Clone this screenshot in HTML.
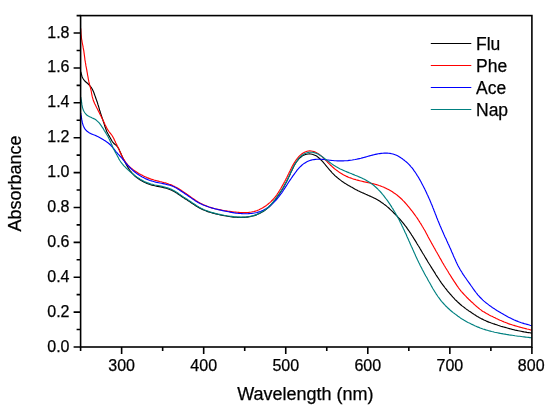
<!DOCTYPE html>
<html><head><meta charset="utf-8"><title>Absorbance vs Wavelength</title>
<style>html,body{margin:0;padding:0;background:#fff;width:550px;height:413px;overflow:hidden}svg{display:block}text{stroke:#000;stroke-width:0.25;paint-order:stroke}</style>
</head><body>
<svg width="550" height="413" viewBox="0 0 550 413" font-family="'Liberation Sans', Arial, sans-serif" fill="#000"><clipPath id="c"><rect x="80.60" y="15.60" width="451.30" height="331.40"/></clipPath>
<g clip-path="url(#c)" fill="none" stroke-width="1.15" stroke-linejoin="round" stroke-linecap="round">
<path d="M80.8,72.0 81.2,73.5 81.6,74.9 82.0,76.4 82.6,77.7 83.3,79.0 84.1,80.2 85.1,81.3 86.2,82.3 87.4,83.3 88.5,84.3 89.5,85.3 90.5,86.5 91.4,87.7 92.2,89.0 92.8,90.3 93.4,91.6 94.0,93.0 94.5,94.5 95.0,95.9 95.5,97.3 96.0,98.7 96.5,100.1 97.0,101.5 97.5,102.9 97.9,104.4 98.4,105.8 98.8,107.2 99.2,108.7 99.6,110.1 100.1,111.5 100.5,113.0 101.0,114.4 101.4,115.8 101.9,117.2 102.4,118.6 102.9,120.1 103.4,121.5 103.8,122.9 104.3,124.3 104.7,125.8 105.2,127.2 105.7,128.6 106.2,130.0 106.7,131.4 107.4,132.7 108.1,134.1 108.8,135.4 109.6,136.7 110.3,138.0 111.0,139.3 111.7,140.6 112.5,141.8 113.5,143.0 114.5,144.0 115.6,144.9 116.7,145.9 117.6,147.0 118.4,148.2 119.1,149.5 119.7,150.9 120.3,152.2 120.9,153.6 121.5,155.0 122.2,156.4 122.8,157.8 123.4,159.1 124.1,160.5 124.8,161.8 125.5,163.1 126.2,164.4 127.0,165.7 127.7,167.0 128.5,168.3 129.3,169.6 130.2,170.8 131.1,171.9 132.1,173.1 133.1,174.1 134.1,175.2 135.2,176.2 136.4,177.2 137.5,178.1 138.7,178.9 139.9,179.8 141.2,180.6 142.5,181.3 143.8,182.0 145.1,182.6 146.4,183.2 147.8,183.8 149.2,184.3 150.6,184.7 152.0,185.1 153.5,185.4 154.9,185.8 156.4,186.1 157.8,186.4 159.2,186.6 160.7,186.9 162.1,187.3 163.6,187.6 165.0,187.9 166.4,188.3 167.7,188.7 169.1,189.2 170.4,189.7 171.7,190.3 173.0,190.9 174.3,191.6 175.6,192.4 176.8,193.1 178.0,194.0 179.2,194.8 180.4,195.6 181.6,196.5 182.8,197.3 184.1,198.1 185.3,198.9 186.6,199.6 187.8,200.4 189.1,201.2 190.3,202.1 191.5,202.9 192.8,203.7 194.0,204.6 195.3,205.4 196.5,206.2 197.8,206.9 199.1,207.7 200.4,208.4 201.7,209.1 203.1,209.7 204.4,210.3 205.8,210.8 207.2,211.4 208.6,211.9 210.0,212.3 211.5,212.7 212.9,213.1 214.4,213.5 215.8,213.9 217.3,214.2 218.7,214.5 220.2,214.9 221.7,215.2 223.1,215.5 224.6,215.8 226.1,216.0 227.6,216.3 229.1,216.5 230.5,216.7 232.0,216.9 233.5,217.1 235.0,217.2 236.5,217.3 238.0,217.4 239.5,217.4 241.0,217.5 242.5,217.4 244.0,217.4 245.5,217.3 247.0,217.1 248.5,216.9 249.9,216.7 251.4,216.3 252.8,216.0 254.2,215.6 255.6,215.1 256.9,214.6 258.2,214.0 259.5,213.4 260.8,212.8 262.0,212.1 263.3,211.4 264.5,210.6 265.6,209.8 266.7,208.9 267.8,208.0 268.9,207.1 269.9,206.0 270.9,205.0 271.9,203.9 272.8,202.8 273.8,201.6 274.7,200.5 275.6,199.3 276.4,198.1 277.3,196.9 278.2,195.7 279.0,194.4 279.9,193.2 280.7,191.9 281.5,190.7 282.3,189.4 283.0,188.2 283.8,186.9 284.5,185.6 285.2,184.3 285.9,183.0 286.6,181.7 287.2,180.3 287.9,179.0 288.5,177.6 289.2,176.3 289.8,174.9 290.4,173.5 291.0,172.1 291.7,170.7 292.3,169.4 293.0,168.0 293.7,166.6 294.4,165.3 295.1,164.0 295.9,162.7 296.8,161.5 297.7,160.3 298.6,159.2 299.6,158.1 300.7,157.2 301.8,156.3 302.9,155.6 304.2,155.0 305.5,154.5 306.8,154.2 308.1,154.0 309.5,153.9 310.8,154.0 312.2,154.3 313.5,154.7 314.8,155.2 316.1,155.8 317.3,156.6 318.4,157.5 319.5,158.5 320.6,159.5 321.7,160.6 322.7,161.7 323.7,162.8 324.7,164.0 325.6,165.2 326.6,166.3 327.6,167.5 328.5,168.7 329.5,169.8 330.5,170.9 331.5,172.0 332.4,173.1 333.5,174.1 334.5,175.2 335.5,176.1 336.6,177.0 337.6,177.9 338.7,178.8 339.8,179.6 340.8,180.4 341.9,181.2 343.0,181.9 344.1,182.7 345.2,183.4 346.2,184.1 347.3,184.7 348.5,185.4 349.6,186.0 350.7,186.7 351.9,187.3 353.1,188.0 354.3,188.7 355.5,189.4 356.8,190.0 358.0,190.7 359.3,191.3 360.6,191.9 361.9,192.5 363.3,193.1 364.6,193.7 365.9,194.3 367.3,194.9 368.6,195.5 370.0,196.1 371.3,196.7 372.6,197.3 373.9,197.9 375.2,198.6 376.5,199.3 377.8,200.0 379.1,200.8 380.3,201.6 381.5,202.4 382.8,203.2 383.9,204.1 385.1,205.0 386.3,205.9 387.4,206.9 388.5,207.8 389.6,208.8 390.7,209.9 391.8,210.9 392.9,211.9 393.9,213.0 395.0,214.0 396.0,215.1 397.1,216.2 398.1,217.3 399.1,218.4 400.1,219.5 401.1,220.6 402.1,221.8 403.0,222.9 404.0,224.1 404.9,225.3 405.8,226.4 406.7,227.6 407.5,228.9 408.4,230.1 409.2,231.3 410.1,232.6 410.9,233.8 411.7,235.1 412.5,236.3 413.3,237.6 414.1,238.9 414.9,240.1 415.7,241.4 416.5,242.7 417.2,244.0 418.0,245.3 418.8,246.5 419.6,247.8 420.3,249.1 421.1,250.4 421.9,251.7 422.6,253.0 423.4,254.3 424.2,255.5 424.9,256.8 425.7,258.1 426.5,259.4 427.3,260.7 428.0,262.0 428.8,263.3 429.6,264.5 430.4,265.8 431.2,267.1 432.0,268.4 432.8,269.6 433.6,270.9 434.4,272.1 435.2,273.4 435.9,274.7 436.7,275.9 437.5,277.1 438.3,278.3 439.1,279.5 439.9,280.7 440.7,281.9 441.5,283.1 442.3,284.2 443.2,285.3 444.0,286.4 444.8,287.5 445.7,288.6 446.6,289.7 447.4,290.8 448.3,291.8 449.2,292.9 450.1,294.0 451.1,295.0 452.0,296.1 452.9,297.2 453.9,298.2 454.9,299.3 455.9,300.3 457.0,301.3 458.0,302.3 459.1,303.3 460.2,304.3 461.3,305.2 462.4,306.1 463.5,306.9 464.6,307.8 465.6,308.6 466.7,309.4 467.8,310.1 468.8,310.9 469.9,311.6 471.0,312.3 472.0,313.0 473.1,313.7 474.1,314.4 475.2,315.0 476.2,315.7 477.3,316.4 478.4,317.0 479.5,317.7 480.6,318.3 481.7,318.9 482.9,319.4 484.0,320.0 485.2,320.5 486.4,321.1 487.6,321.6 488.8,322.1 490.1,322.5 491.3,323.0 492.6,323.5 493.9,323.9 495.3,324.4 496.6,324.8 498.0,325.3 499.4,325.7 500.8,326.2 502.2,326.6 503.6,327.0 505.1,327.4 506.5,327.8 508.0,328.2 509.4,328.6 510.9,329.0 512.3,329.4 513.8,329.7 515.2,330.1 516.7,330.4 518.2,330.7 519.7,331.0 521.1,331.3 522.6,331.6 524.1,331.9 525.6,332.1 527.0,332.4 528.5,332.6 530.0,332.8 531.5,333.1" stroke="#000000"/>
<path d="M80.7,28.6 80.8,30.1 80.9,31.6 81.0,33.1 81.1,34.6 81.3,36.1 81.4,37.6 81.6,39.1 81.9,40.5 82.1,42.0 82.4,43.5 82.7,45.0 83.0,46.4 83.2,47.9 83.5,49.4 83.8,50.9 84.0,52.3 84.2,53.8 84.4,55.3 84.6,56.8 84.8,58.3 84.9,59.8 85.2,61.2 85.4,62.7 85.7,64.2 85.9,65.7 86.2,67.1 86.5,68.6 86.8,70.1 87.0,71.6 87.3,73.0 87.5,74.5 87.8,76.0 88.1,77.5 88.3,79.0 88.6,80.4 88.9,81.9 89.3,83.3 89.6,84.8 90.0,86.2 90.4,87.7 90.8,89.1 91.1,90.5 91.4,92.0 91.6,93.5 91.9,94.9 92.2,96.4 92.6,97.8 93.0,99.2 93.5,100.7 94.0,102.1 94.6,103.4 95.3,104.8 95.9,106.1 96.6,107.5 97.3,108.8 98.0,110.2 98.6,111.5 99.3,112.8 100.0,114.2 100.7,115.5 101.3,116.8 102.0,118.2 102.7,119.5 103.3,120.9 104.0,122.2 104.6,123.6 105.2,124.9 105.9,126.3 106.5,127.6 107.3,129.0 108.0,130.2 108.9,131.5 109.8,132.6 110.8,133.8 111.7,135.0 112.5,136.2 113.2,137.5 113.9,138.8 114.5,140.2 115.2,141.5 115.8,142.9 116.5,144.2 117.1,145.6 117.8,146.9 118.4,148.3 119.1,149.6 119.7,151.0 120.3,152.4 120.9,153.7 121.5,155.1 122.2,156.4 122.9,157.8 123.6,159.1 124.4,160.3 125.2,161.6 126.1,162.8 127.0,164.0 128.0,165.1 129.0,166.1 130.1,167.2 131.2,168.1 132.3,169.0 133.4,169.9 134.6,170.8 135.8,171.6 136.9,172.3 138.1,173.1 139.3,173.8 140.6,174.5 141.8,175.1 143.1,175.8 144.4,176.4 145.7,177.0 147.0,177.6 148.4,178.1 149.7,178.6 151.1,179.1 152.6,179.5 154.0,180.0 155.4,180.4 156.8,180.7 158.3,181.1 159.7,181.5 161.1,181.8 162.5,182.2 163.9,182.6 165.3,182.9 166.6,183.3 167.9,183.7 169.2,184.2 170.4,184.6 171.7,185.1 172.9,185.7 174.2,186.2 175.4,186.9 176.6,187.5 177.9,188.2 179.1,189.0 180.3,189.8 181.5,190.6 182.7,191.4 183.9,192.2 185.1,193.0 186.3,193.8 187.4,194.6 188.6,195.4 189.8,196.2 191.0,197.1 192.1,197.9 193.3,198.8 194.5,199.6 195.7,200.4 197.0,201.2 198.2,202.0 199.5,202.7 200.8,203.4 202.2,204.1 203.5,204.7 204.9,205.3 206.2,205.9 207.6,206.5 209.0,207.0 210.5,207.4 211.9,207.9 213.3,208.3 214.8,208.7 216.2,209.0 217.7,209.3 219.2,209.6 220.7,209.9 222.2,210.2 223.7,210.5 225.1,210.7 226.6,210.9 228.1,211.2 229.6,211.4 231.1,211.6 232.6,211.8 234.1,212.0 235.6,212.1 237.1,212.3 238.6,212.4 240.1,212.5 241.6,212.6 243.0,212.6 244.5,212.6 245.9,212.6 247.3,212.5 248.7,212.4 250.1,212.2 251.4,212.0 252.7,211.7 254.0,211.5 255.3,211.1 256.6,210.7 257.8,210.2 259.1,209.7 260.3,209.1 261.6,208.5 262.8,207.8 264.0,207.0 265.2,206.2 266.4,205.4 267.6,204.5 268.7,203.5 269.8,202.6 270.9,201.6 272.0,200.5 273.0,199.5 274.0,198.4 274.9,197.3 275.8,196.2 276.7,195.0 277.4,193.9 278.2,192.7 278.9,191.6 279.6,190.5 280.3,189.3 281.0,188.2 281.6,187.0 282.3,185.9 282.9,184.7 283.6,183.6 284.2,182.4 284.9,181.2 285.5,180.0 286.1,178.7 286.8,177.5 287.4,176.2 288.0,174.9 288.7,173.6 289.3,172.2 290.0,170.9 290.6,169.5 291.3,168.2 292.0,166.8 292.7,165.5 293.5,164.1 294.3,162.8 295.1,161.5 295.9,160.3 296.8,159.0 297.8,157.8 298.8,156.7 299.8,155.6 300.9,154.6 302.0,153.7 303.2,152.9 304.5,152.2 305.8,151.7 307.1,151.3 308.4,151.0 309.8,150.9 311.2,151.0 312.5,151.2 313.9,151.6 315.2,152.1 316.5,152.7 317.8,153.4 319.0,154.3 320.2,155.2 321.4,156.1 322.5,157.1 323.6,158.2 324.7,159.3 325.8,160.3 326.9,161.4 327.9,162.5 329.0,163.6 330.1,164.7 331.2,165.7 332.3,166.8 333.4,167.7 334.5,168.7 335.7,169.6 336.9,170.5 338.1,171.4 339.3,172.3 340.5,173.1 341.7,173.8 342.9,174.6 344.2,175.2 345.4,175.8 346.6,176.4 347.8,176.9 349.1,177.5 350.3,177.9 351.5,178.3 352.6,178.7 353.8,179.1 355.0,179.4 356.1,179.8 357.3,180.1 358.4,180.4 359.6,180.7 360.8,181.0 362.0,181.3 363.3,181.6 364.5,181.9 365.8,182.1 367.1,182.4 368.4,182.7 369.7,182.9 371.0,183.2 372.4,183.5 373.7,183.9 375.1,184.2 376.4,184.6 377.7,185.0 379.1,185.5 380.5,185.9 381.8,186.5 383.2,187.0 384.5,187.6 385.9,188.2 387.2,188.9 388.5,189.6 389.8,190.3 391.1,191.0 392.4,191.8 393.6,192.7 394.9,193.5 396.1,194.4 397.3,195.3 398.4,196.3 399.6,197.2 400.7,198.2 401.8,199.2 402.8,200.3 403.9,201.4 404.9,202.5 405.9,203.6 406.8,204.7 407.8,205.9 408.8,207.0 409.7,208.2 410.6,209.4 411.6,210.5 412.5,211.7 413.4,212.9 414.3,214.1 415.2,215.3 416.0,216.5 416.9,217.7 417.7,218.9 418.5,220.2 419.3,221.4 420.1,222.7 420.9,223.9 421.7,225.2 422.4,226.5 423.2,227.7 423.9,229.0 424.7,230.3 425.4,231.6 426.1,232.9 426.8,234.2 427.5,235.5 428.2,236.9 428.9,238.2 429.6,239.5 430.3,240.8 431.0,242.1 431.7,243.4 432.5,244.7 433.2,246.0 433.9,247.3 434.7,248.6 435.4,249.9 436.1,251.2 436.9,252.5 437.6,253.8 438.3,255.0 439.0,256.3 439.7,257.6 440.5,258.9 441.2,260.1 441.9,261.4 442.6,262.7 443.4,263.9 444.1,265.2 444.9,266.5 445.6,267.7 446.4,269.0 447.2,270.3 448.0,271.5 448.7,272.8 449.5,274.1 450.3,275.3 451.1,276.6 451.9,277.9 452.7,279.1 453.5,280.4 454.3,281.6 455.2,282.9 456.0,284.1 456.8,285.4 457.7,286.6 458.5,287.8 459.4,289.0 460.3,290.2 461.2,291.3 462.2,292.4 463.2,293.5 464.2,294.6 465.2,295.7 466.2,296.7 467.2,297.8 468.3,298.8 469.3,299.8 470.4,300.8 471.4,301.8 472.5,302.7 473.5,303.7 474.5,304.6 475.6,305.6 476.6,306.5 477.7,307.4 478.7,308.2 479.8,309.1 480.9,309.9 481.9,310.7 483.0,311.4 484.2,312.1 485.3,312.8 486.4,313.5 487.6,314.1 488.8,314.8 490.0,315.4 491.2,316.0 492.5,316.6 493.7,317.2 495.0,317.8 496.2,318.5 497.5,319.1 498.8,319.7 500.1,320.3 501.5,320.8 502.8,321.4 504.2,322.0 505.6,322.5 506.9,323.0 508.3,323.6 509.7,324.1 511.2,324.5 512.6,325.0 514.0,325.4 515.5,325.9 516.9,326.3 518.4,326.7 519.8,327.1 521.3,327.5 522.7,327.9 524.2,328.2 525.6,328.6 527.1,329.0 528.6,329.3 530.0,329.7 531.5,330.1" stroke="#ff0000"/>
<path d="M80.8,113.4 81.0,114.9 81.3,116.4 81.5,117.9 81.7,119.4 82.0,120.9 82.3,122.4 82.7,123.8 83.1,125.2 83.7,126.6 84.3,127.9 85.1,129.1 86.0,130.2 87.1,131.2 88.2,132.1 89.5,132.9 90.8,133.6 92.2,134.2 93.6,134.8 95.0,135.3 96.4,135.9 97.7,136.5 99.1,137.2 100.4,137.9 101.7,138.7 103.0,139.5 104.2,140.3 105.5,141.1 106.7,141.9 107.9,142.8 109.1,143.7 110.2,144.7 111.2,145.8 112.2,146.9 113.1,148.0 114.1,149.2 115.0,150.4 115.9,151.6 116.9,152.7 117.9,153.8 118.9,154.9 119.9,156.0 120.9,157.1 121.9,158.2 122.8,159.4 123.8,160.5 124.7,161.7 125.6,162.9 126.6,164.0 127.6,165.1 128.6,166.2 129.6,167.3 130.7,168.3 131.7,169.4 132.8,170.3 133.9,171.3 135.1,172.2 136.2,173.1 137.4,173.9 138.6,174.7 139.8,175.5 141.0,176.2 142.2,176.9 143.5,177.6 144.7,178.3 146.0,178.9 147.3,179.4 148.7,180.0 150.1,180.5 151.4,180.9 152.8,181.3 154.3,181.7 155.7,182.1 157.1,182.4 158.6,182.7 160.1,183.0 161.5,183.3 162.9,183.6 164.4,183.9 165.8,184.2 167.2,184.6 168.6,184.9 169.9,185.3 171.3,185.8 172.6,186.3 173.9,186.8 175.2,187.5 176.4,188.1 177.7,188.9 178.9,189.6 180.1,190.4 181.3,191.2 182.5,192.0 183.7,192.8 184.9,193.7 186.2,194.5 187.4,195.3 188.6,196.2 189.8,197.0 191.1,197.9 192.3,198.7 193.5,199.5 194.8,200.4 196.1,201.2 197.3,201.9 198.6,202.7 200.0,203.4 201.3,204.0 202.6,204.7 204.0,205.3 205.4,205.8 206.8,206.3 208.2,206.8 209.6,207.3 211.0,207.7 212.5,208.1 213.9,208.5 215.4,208.9 216.8,209.2 218.3,209.6 219.7,209.9 221.2,210.2 222.7,210.6 224.1,210.9 225.6,211.2 227.1,211.5 228.6,211.8 230.0,212.1 231.5,212.4 233.0,212.6 234.5,212.9 236.0,213.1 237.4,213.2 238.9,213.4 240.4,213.5 241.8,213.6 243.3,213.7 244.7,213.7 246.1,213.7 247.6,213.7 248.9,213.6 250.3,213.5 251.7,213.4 253.0,213.2 254.3,213.0 255.6,212.8 256.9,212.5 258.2,212.1 259.5,211.7 260.8,211.3 262.0,210.8 263.3,210.3 264.5,209.6 265.7,209.0 266.8,208.3 268.0,207.5 269.1,206.7 270.2,205.8 271.2,204.9 272.3,203.9 273.3,202.9 274.3,201.9 275.3,200.9 276.3,199.8 277.3,198.7 278.2,197.5 279.1,196.4 280.0,195.2 280.9,194.0 281.8,192.8 282.6,191.6 283.4,190.3 284.2,189.1 285.0,187.9 285.8,186.6 286.6,185.4 287.4,184.2 288.1,183.0 288.9,181.8 289.7,180.6 290.5,179.4 291.3,178.3 292.1,177.1 292.9,175.9 293.7,174.8 294.6,173.6 295.4,172.5 296.3,171.3 297.1,170.2 298.0,169.2 298.9,168.1 299.8,167.1 300.8,166.2 301.8,165.3 302.8,164.4 303.9,163.6 305.0,162.9 306.1,162.2 307.3,161.6 308.6,161.0 309.9,160.5 311.2,160.1 312.6,159.8 313.9,159.6 315.4,159.4 316.8,159.3 318.2,159.2 319.7,159.2 321.1,159.3 322.6,159.4 324.1,159.5 325.5,159.7 327.0,159.9 328.5,160.0 329.9,160.2 331.4,160.4 332.9,160.5 334.4,160.7 335.9,160.8 337.3,160.9 338.8,160.9 340.3,160.9 341.8,160.9 343.3,160.9 344.8,160.8 346.3,160.7 347.7,160.6 349.2,160.4 350.7,160.2 352.2,160.0 353.6,159.7 355.1,159.5 356.6,159.2 358.0,158.9 359.5,158.6 360.9,158.3 362.3,157.9 363.8,157.5 365.2,157.1 366.6,156.7 368.1,156.3 369.5,155.9 370.9,155.5 372.4,155.1 373.9,154.7 375.3,154.4 376.8,154.1 378.3,153.8 379.7,153.6 381.2,153.4 382.7,153.2 384.2,153.1 385.7,153.1 387.2,153.1 388.7,153.2 390.1,153.4 391.6,153.7 393.0,154.0 394.4,154.5 395.8,155.0 397.1,155.6 398.4,156.3 399.6,157.0 400.8,157.8 402.0,158.5 403.1,159.4 404.3,160.2 405.3,161.1 406.4,162.0 407.4,162.9 408.4,163.9 409.4,164.9 410.4,166.0 411.3,167.1 412.3,168.2 413.2,169.4 414.0,170.6 414.9,171.8 415.7,173.0 416.5,174.3 417.3,175.6 418.1,176.8 418.9,178.1 419.6,179.4 420.4,180.8 421.1,182.1 421.8,183.4 422.5,184.7 423.2,186.1 423.9,187.4 424.6,188.8 425.2,190.1 425.9,191.5 426.5,192.8 427.1,194.2 427.8,195.5 428.4,196.9 429.0,198.3 429.6,199.6 430.2,201.0 430.8,202.4 431.3,203.8 431.9,205.1 432.5,206.5 433.0,207.9 433.6,209.3 434.1,210.7 434.7,212.1 435.2,213.5 435.8,214.9 436.3,216.3 436.8,217.7 437.4,219.1 437.9,220.4 438.5,221.8 439.1,223.2 439.6,224.6 440.2,226.0 440.8,227.3 441.4,228.7 442.0,230.1 442.6,231.4 443.2,232.8 443.8,234.2 444.4,235.5 445.0,236.9 445.7,238.3 446.3,239.6 446.9,241.0 447.5,242.3 448.1,243.7 448.8,245.1 449.4,246.4 450.0,247.8 450.6,249.1 451.2,250.5 451.8,251.9 452.4,253.2 453.0,254.6 453.5,256.0 454.1,257.3 454.8,258.7 455.4,260.0 456.0,261.4 456.6,262.7 457.2,264.0 457.9,265.4 458.6,266.7 459.3,268.0 460.0,269.3 460.8,270.6 461.6,271.8 462.3,273.1 463.1,274.4 464.0,275.6 464.8,276.8 465.7,278.0 466.5,279.3 467.4,280.5 468.2,281.7 469.1,282.9 470.0,284.1 470.8,285.3 471.7,286.5 472.5,287.7 473.3,288.9 474.2,290.1 475.1,291.3 476.0,292.5 476.9,293.6 477.8,294.8 478.8,295.9 479.8,297.0 480.8,298.0 481.9,299.1 482.9,300.1 484.0,301.1 485.2,302.1 486.3,303.0 487.5,303.9 488.7,304.9 489.9,305.8 491.1,306.6 492.3,307.5 493.5,308.3 494.8,309.1 496.1,310.0 497.3,310.8 498.6,311.5 499.9,312.3 501.2,313.1 502.5,313.8 503.8,314.6 505.1,315.3 506.4,316.0 507.7,316.8 509.0,317.4 510.4,318.1 511.7,318.8 513.1,319.4 514.4,320.0 515.8,320.6 517.2,321.1 518.6,321.7 520.0,322.2 521.4,322.7 522.8,323.1 524.2,323.6 525.7,324.0 527.1,324.4 528.5,324.8 530.0,325.3 531.4,325.6" stroke="#0000ff"/>
<path d="M80.8,97.3 81.0,98.8 81.3,100.2 81.5,101.7 81.7,103.2 81.9,104.7 82.2,106.2 82.5,107.6 83.0,109.1 83.5,110.5 84.2,111.8 85.0,113.0 86.0,114.2 87.1,115.2 88.3,116.0 89.6,116.7 90.9,117.3 92.3,118.0 93.7,118.6 95.0,119.3 96.2,120.1 97.3,121.1 98.4,122.1 99.4,123.2 100.3,124.4 101.2,125.6 102.0,126.9 102.9,128.1 103.7,129.4 104.4,130.7 105.2,131.9 106.0,133.2 106.7,134.5 107.5,135.8 108.2,137.1 108.9,138.5 109.6,139.8 110.2,141.2 110.8,142.6 111.4,143.9 112.0,145.3 112.6,146.7 113.1,148.0 113.7,149.2 114.3,150.3 114.8,151.3 115.3,152.1 115.8,152.9 116.2,153.7 116.7,154.6 117.2,155.6 117.8,156.7 118.4,157.8 119.0,159.1 119.7,160.3 120.5,161.5 121.3,162.7 122.3,163.9 123.2,165.0 124.2,166.1 125.3,167.2 126.4,168.3 127.5,169.3 128.6,170.4 129.7,171.4 130.8,172.4 132.0,173.3 133.1,174.3 134.3,175.2 135.5,176.1 136.7,177.0 137.9,177.8 139.2,178.6 140.4,179.4 141.7,180.1 143.0,180.8 144.3,181.5 145.7,182.1 147.0,182.6 148.4,183.1 149.7,183.6 151.1,184.0 152.5,184.3 153.8,184.7 155.2,185.0 156.6,185.2 158.0,185.5 159.3,185.8 160.7,186.1 162.1,186.4 163.4,186.7 164.8,187.1 166.2,187.5 167.5,187.9 168.9,188.3 170.2,188.9 171.5,189.4 172.8,190.1 174.1,190.7 175.4,191.5 176.6,192.2 177.8,193.0 179.0,193.9 180.2,194.7 181.4,195.6 182.6,196.4 183.8,197.2 185.1,198.0 186.3,198.8 187.6,199.6 188.8,200.5 190.1,201.3 191.3,202.1 192.5,203.0 193.8,203.8 195.0,204.6 196.3,205.5 197.5,206.2 198.8,207.0 200.1,207.7 201.4,208.4 202.8,209.1 204.1,209.7 205.5,210.3 206.9,210.8 208.3,211.3 209.7,211.8 211.1,212.2 212.5,212.6 214.0,213.0 215.4,213.4 216.9,213.7 218.3,214.1 219.8,214.4 221.2,214.7 222.7,215.0 224.2,215.3 225.6,215.5 227.1,215.8 228.6,216.0 230.1,216.2 231.6,216.4 233.1,216.6 234.6,216.8 236.1,216.9 237.6,217.0 239.1,217.1 240.6,217.1 242.1,217.1 243.6,217.1 245.0,217.0 246.5,216.9 248.0,216.7 249.4,216.5 250.8,216.2 252.3,215.9 253.6,215.5 255.0,215.1 256.3,214.6 257.6,214.1 258.9,213.5 260.2,212.8 261.4,212.1 262.6,211.4 263.8,210.7 265.0,209.9 266.1,209.0 267.2,208.1 268.3,207.2 269.3,206.2 270.3,205.2 271.3,204.1 272.3,203.0 273.2,201.9 274.1,200.7 275.1,199.5 276.0,198.3 276.8,197.1 277.7,195.9 278.6,194.7 279.4,193.5 280.2,192.2 281.0,191.0 281.8,189.7 282.6,188.5 283.4,187.2 284.1,185.9 284.8,184.6 285.5,183.3 286.2,182.0 286.9,180.7 287.6,179.3 288.2,178.0 288.9,176.6 289.5,175.3 290.1,173.9 290.7,172.5 291.4,171.1 292.0,169.8 292.7,168.4 293.3,167.0 294.0,165.7 294.8,164.4 295.5,163.1 296.3,161.8 297.2,160.6 298.1,159.4 299.0,158.2 300.0,157.2 301.0,156.2 302.1,155.3 303.3,154.5 304.5,153.8 305.8,153.2 307.1,152.7 308.4,152.4 309.8,152.2 311.1,152.2 312.5,152.3 313.9,152.6 315.3,153.0 316.6,153.5 317.9,154.1 319.2,154.8 320.5,155.6 321.8,156.4 323.0,157.3 324.2,158.2 325.4,159.1 326.6,160.0 327.8,160.9 329.0,161.8 330.2,162.7 331.4,163.6 332.6,164.5 333.8,165.3 335.1,166.1 336.3,166.8 337.6,167.5 338.9,168.2 340.2,168.9 341.5,169.5 342.8,170.1 344.2,170.7 345.5,171.3 346.9,171.9 348.2,172.4 349.6,173.0 351.0,173.5 352.3,174.1 353.7,174.6 355.1,175.2 356.4,175.7 357.8,176.3 359.1,176.9 360.5,177.5 361.8,178.1 363.1,178.7 364.4,179.3 365.7,180.0 366.9,180.7 368.2,181.5 369.4,182.3 370.6,183.1 371.8,183.9 373.0,184.8 374.2,185.8 375.3,186.7 376.4,187.7 377.5,188.7 378.5,189.8 379.6,190.9 380.6,192.0 381.6,193.1 382.5,194.3 383.5,195.4 384.4,196.6 385.3,197.8 386.2,199.0 387.1,200.2 388.0,201.4 388.8,202.7 389.7,203.9 390.5,205.1 391.3,206.4 392.1,207.7 392.9,208.9 393.7,210.2 394.4,211.5 395.2,212.8 395.9,214.1 396.6,215.4 397.4,216.7 398.1,218.0 398.8,219.3 399.5,220.6 400.1,222.0 400.8,223.3 401.5,224.6 402.1,226.0 402.8,227.3 403.4,228.7 404.1,230.0 404.7,231.4 405.3,232.8 406.0,234.1 406.6,235.5 407.2,236.9 407.8,238.2 408.4,239.6 409.0,241.0 409.6,242.3 410.2,243.7 410.8,245.1 411.4,246.4 412.1,247.8 412.7,249.2 413.3,250.5 413.9,251.9 414.5,253.3 415.1,254.6 415.7,256.0 416.4,257.4 417.0,258.7 417.6,260.1 418.3,261.4 418.9,262.8 419.6,264.1 420.2,265.5 420.9,266.8 421.6,268.1 422.3,269.5 423.0,270.8 423.7,272.1 424.4,273.4 425.1,274.7 425.8,276.0 426.6,277.3 427.3,278.6 428.0,279.9 428.7,281.2 429.5,282.5 430.2,283.8 430.9,285.1 431.6,286.4 432.4,287.7 433.1,289.0 433.9,290.3 434.7,291.6 435.5,292.8 436.3,294.1 437.1,295.3 437.9,296.5 438.8,297.7 439.7,298.9 440.6,300.1 441.5,301.3 442.5,302.4 443.5,303.5 444.5,304.6 445.5,305.7 446.6,306.7 447.6,307.8 448.7,308.8 449.8,309.8 450.9,310.7 452.1,311.7 453.2,312.6 454.4,313.5 455.6,314.4 456.8,315.3 458.0,316.2 459.2,317.0 460.4,317.9 461.6,318.7 462.9,319.4 464.2,320.2 465.4,320.9 466.7,321.7 468.0,322.4 469.4,323.1 470.7,323.7 472.0,324.4 473.4,325.0 474.7,325.7 476.1,326.3 477.4,326.9 478.8,327.4 480.2,328.0 481.6,328.5 483.0,329.0 484.4,329.4 485.8,329.9 487.3,330.3 488.7,330.7 490.2,331.1 491.6,331.5 493.1,331.8 494.5,332.2 496.0,332.5 497.4,332.8 498.9,333.1 500.4,333.4 501.8,333.6 503.3,333.9 504.8,334.1 506.3,334.4 507.7,334.6 509.2,334.9 510.7,335.1 512.2,335.3 513.7,335.5 515.1,335.8 516.6,336.0 518.1,336.2 519.6,336.3 521.1,336.5 522.6,336.7 524.1,336.9 525.5,337.1 527.0,337.3 528.5,337.4 530.0,337.6 531.5,337.8" stroke="#008080"/>
</g>
<path d="M80.60,347.00V351.00 M121.63,347.00V354.00 M162.65,347.00V351.00 M203.68,347.00V354.00 M244.71,347.00V351.00 M285.74,347.00V354.00 M326.76,347.00V351.00 M367.79,347.00V354.00 M408.82,347.00V351.00 M449.85,347.00V354.00 M490.87,347.00V351.00 M531.90,347.00V354.00 M80.60,347.00H73.60 M80.60,329.56H76.60 M80.60,312.12H73.60 M80.60,294.67H76.60 M80.60,277.23H73.60 M80.60,259.79H76.60 M80.60,242.35H73.60 M80.60,224.91H76.60 M80.60,207.46H73.60 M80.60,190.02H76.60 M80.60,172.58H73.60 M80.60,155.14H76.60 M80.60,137.69H73.60 M80.60,120.25H76.60 M80.60,102.81H73.60 M80.60,85.37H76.60 M80.60,67.93H73.60 M80.60,50.48H76.60 M80.60,33.04H73.60 M80.60,15.60H76.60" stroke="#000" stroke-width="1.60" fill="none"/>
<rect x="80.60" y="15.60" width="451.30" height="331.40" fill="none" stroke="#000" stroke-width="1.60"/>
<g font-size="16"><text x="121.63" y="370.60" text-anchor="middle">300</text><text x="203.68" y="370.60" text-anchor="middle">400</text><text x="285.74" y="370.60" text-anchor="middle">500</text><text x="367.79" y="370.60" text-anchor="middle">600</text><text x="449.85" y="370.60" text-anchor="middle">700</text><text x="531.20" y="370.60" text-anchor="middle">800</text><text x="69.50" y="351.50" text-anchor="end">0.0</text><text x="69.50" y="316.62" text-anchor="end">0.2</text><text x="69.50" y="281.73" text-anchor="end">0.4</text><text x="69.50" y="246.85" text-anchor="end">0.6</text><text x="69.50" y="211.96" text-anchor="end">0.8</text><text x="69.50" y="177.08" text-anchor="end">1.0</text><text x="69.50" y="142.19" text-anchor="end">1.2</text><text x="69.50" y="107.31" text-anchor="end">1.4</text><text x="69.50" y="72.43" text-anchor="end">1.6</text><text x="69.50" y="37.54" text-anchor="end">1.8</text></g>
<text x="305.40" y="399.80" font-size="18" text-anchor="middle">Wavelength (nm)</text>
<text transform="translate(21.1,183.5) rotate(-90)" x="0" y="0" font-size="18" text-anchor="middle">Absorbance</text>
<path d="M430.8,43.50H471.3" stroke="#000000" stroke-width="1.1"/>
<text x="476" y="49.50" font-size="17.5">Flu</text>
<path d="M430.8,65.50H471.3" stroke="#ff0000" stroke-width="1.1"/>
<text x="476" y="71.50" font-size="17.5">Phe</text>
<path d="M430.8,87.50H471.3" stroke="#0000ff" stroke-width="1.1"/>
<text x="476" y="93.50" font-size="17.5">Ace</text>
<path d="M430.8,109.50H471.3" stroke="#008080" stroke-width="1.1"/>
<text x="476" y="115.50" font-size="17.5">Nap</text></svg>
</body></html>
